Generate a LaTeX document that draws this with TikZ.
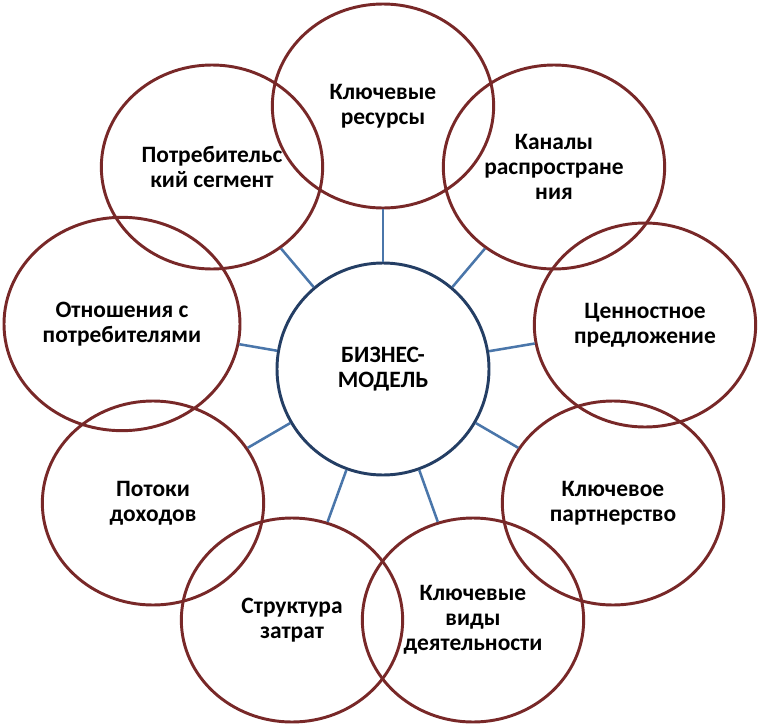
\documentclass[tikz,border=0pt]{standalone}
\usepackage{fontspec}
\setmainfont{Carlito}
\usepackage{tikz}
\usetikzlibrary{shapes.geometric,
                positioning}
\definecolor{partred}{RGB}{120,40,40}
\definecolor{coreblue}{RGB}{36,62,100}
\definecolor{spokeblue}{RGB}{74,118,170}

\begin{document}
\begin{tikzpicture}[x=0.75pt,y=-0.75pt,%
    Part/.style={draw=partred, line width=2.2pt, ellipse, inner sep=0pt,
                 minimum width=166pt, minimum height=153pt, align=center,
                 font=\fontsize{17.6}{18.75}\selectfont\bfseries},
    Core/.style={draw=coreblue, line width=2.2pt, circle, inner sep=0pt,
                 minimum size=159pt, align=center,
                 font=\fontsize{17.6}{18.75}\selectfont\bfseries},
    Spoke/.style={draw=spokeblue, line width=1.9pt}
    ]
    \useasboundingbox (0,0) rectangle (758,725);

    %centre node
    \node[Core] at (383,369) (Core){БИЗНЕС-\\МОДЕЛЬ};

    %outer nodes
    \node[Part] at (383,106) (P1){Ключевые\\ресурсы};
    \node[Part] at (554,167) (P2){Каналы\\распростране\\ния};
    \node[Part] at (645,325) (P3){Ценностное\\предложение};
    \node[Part] at (613,503) (P4){Ключевое\\партнерство};
    \node[Part] at (473,620) (P5){Ключевые\\виды\\деятельности};
    \node[Part] at (292,620) (P6){Структура\\затрат};
    \node[Part] at (153,503) (P7){Потоки\\доходов};
    \node[Part, minimum width=177pt, minimum height=160pt] at (122,324) (P8){Отношения с\\потребителями};
    \node[Part] at (212,167) (P9){Потребительс\\кий сегмент};

    %spokes
    \foreach \x in {1,...,9} \draw[Spoke] (Core) -- (P\x);
\end{tikzpicture}
\end{document}
